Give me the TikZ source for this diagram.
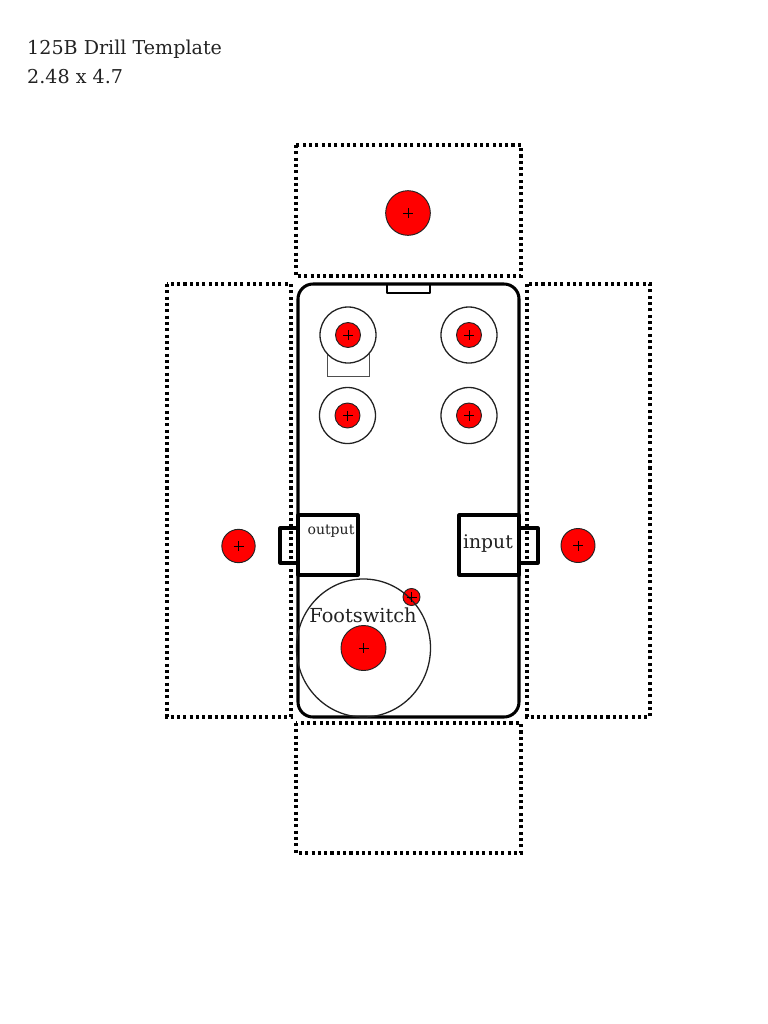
\documentclass[tikz,border=0pt]{standalone}
\usepackage{fontspec}
\setmainfont{DejaVu Serif}
\usetikzlibrary{shapes.geometric}
\definecolor{holered}{HTML}{FF0000}
\definecolor{linegray}{HTML}{222222}
\tikzset{
  outline/.style={draw=black,line width=2.6pt,line join=round},
  flap/.style={draw=black,line width=2.9pt,dash pattern=on 2.6pt off 2.8pt},
  ring/.style={circle,draw=linegray,line width=1.1pt,fill=white,inner sep=0,minimum size=1.68cm},
  hole/.style={circle,draw=linegray,line width=0.8pt,fill=holered,inner sep=0},
  label/.style={text=linegray,inner sep=0mm}
}
\newcommand{\crosshair}[1]{\draw[line width=0.8pt] (#1) ++(-5,0) -- ++(10,0) (#1) ++(0,-5) -- ++(0,10);}
\begin{document}
\begin{tikzpicture}[x=0.03cm,y=-0.03cm]
\useasboundingbox (0,0) rectangle (768,1024);

\node[label,anchor=west,font=\fontsize{16.3pt}{0}\selectfont] (title) at (27,49) {125B Drill Template};
\node[label,anchor=west,font=\fontsize{16.3pt}{0}\selectfont] (size) at (27,77) {2.48 x 4.7};

% flaps
\draw[flap] (296,145) rectangle (521,276);
\draw[flap] (167,284) rectangle (291,717);
\draw[flap] (527,284) rectangle (650,717);
\draw[flap] (296,723) rectangle (521,853);

% enclosure
\draw[outline,rounded corners=0.45cm] (298,284) rectangle (519,717);
\draw[outline,line width=1.9pt] (387,284) rectangle (430,293);

% pots
\draw[draw=linegray!80,line width=0.8pt] (327,350) rectangle (369,376);
\node[ring] (potA) at (348,335) {};
\node[ring] (potB) at (469,335) {};
\node[ring] (potC) at (347.5,415.5) {};
\node[ring] (potD) at (469,415.5) {};
\node[hole,minimum size=0.75cm] (holeA) at (potA) {};
\node[hole,minimum size=0.75cm] (holeB) at (potB) {};
\node[hole,minimum size=0.75cm] (holeC) at (potC) {};
\node[hole,minimum size=0.75cm] (holeD) at (potD) {};

% top and side jacks
\node[hole,minimum size=1.34cm] (holeTop) at (408,213) {};
\node[hole,minimum size=1cm] (holeLeft) at (238.5,546) {};
\node[hole,minimum size=1.02cm] (holeRight) at (578,545.5) {};

% boxes
\draw[outline] (298,515) rectangle (358,575);
\draw[outline] (298,528) -- (280,528) -- (280,563) -- (298,563);
\draw[outline] (519,515) rectangle (459,575);
\draw[outline] (519,528) -- (538,528) -- (538,563) -- (519,563);
\node[label,font=\fontsize{12pt}{0}\selectfont] (output) at (331,531) {output};
\node[label,font=\fontsize{16pt}{0}\selectfont] (input) at (488,544) {input};

% footswitch
\node[hole,minimum size=0.51cm] (holeLed) at (411.5,597) {};
\node[ellipse,draw=linegray,line width=1.1pt,inner sep=0,minimum width=4.02cm,minimum height=4.14cm] (footswitch) at (363.5,648) {};
\node[hole,minimum size=1.35cm] (holeFoot) at (footswitch) {};
\node[label,font=\fontsize{16.5pt}{0}\selectfont] (footLabel) at (363,615) {Footswitch};

\foreach \c in {holeA,holeB,holeC,holeD,holeTop,holeLeft,holeRight,holeLed,holeFoot}
  {\crosshair{\c.center}}

\end{tikzpicture}
\end{document}
